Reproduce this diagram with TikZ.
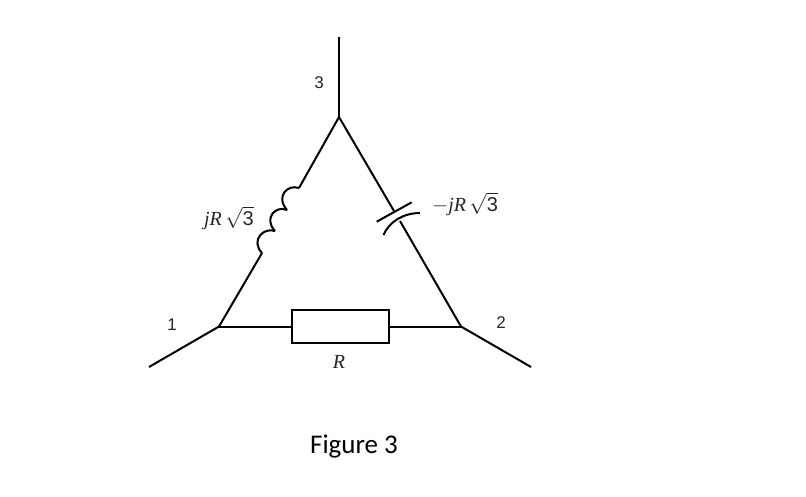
\documentclass[tikz,border=0pt]{standalone}
\usepackage{amsmath,amssymb}
\usepackage{fontspec}
\setmainfont{Liberation Sans}
\newfontfamily\capfont{Carlito}
\newfontfamily\valfont{Liberation Serif}
\newcommand{\jR}{{\valfont\itshape jR}}
\usepackage{tikz}

\begin{document}
\begin{tikzpicture}[x=1pt,y=-1pt,line width=2pt,
    lab/.style={text=black!85,font=\fontsize{17}{20}\selectfont,inner sep=0pt},
    val/.style={text=black!85,font=\fontsize{20}{23}\selectfont,inner sep=0pt},
    res/.style={draw,fill=white,minimum width=97pt,minimum height=33pt,inner sep=0pt}]
\useasboundingbox (0,0) rectangle (806,496);
\coordinate (top) at (339,37);
\coordinate (n3) at (339,117);
\coordinate (n1) at (219,326.5);
\coordinate (n2) at (461,326.5);
\coordinate (end1) at (149,367);
\coordinate (end2) at (531,367);
\coordinate (indA) at (299,188);
\coordinate (indB) at (287,210);
\coordinate (indC) at (275,231);
\coordinate (indD) at (262,253);
\coordinate (capA) at (394,211);
\coordinate (capB) at (400,221);
\node[res] (res) at (340.5,326.5) {};
\draw (top) -- (n3);
\draw (end1) -- (n1);
\draw (end2) -- (n2);
\draw (n1) -- (res);
\draw (res) -- (n2);
\draw (n3) -- (indA);
\draw (indA) .. controls (288,184) and (275,196) .. (indB);
\draw (indB) .. controls (276,205) and (263,218) .. (indC);
\draw (indC) .. controls (264,227) and (250,240) .. (indD);
\draw (indD) -- (n1);
\draw (n3) -- (capA);
\draw (capB) -- (n2);
\draw (376.7,221.7) -- (411.7,202.3);
\draw (383.5,235) .. controls (389,222) and (403,213) .. (420,213);
\node[lab] (lab3) at (319,83) {3};
\node[lab] (lab1) at (172,325) {1};
\node[lab] (lab2) at (501,323) {2};
\node[val] (valL) at (229,218) {\jR$\,\sqrt{\mathrm{3}}$};
\node[val] (valC) at (465,204) {$-$\jR$\,\sqrt{\mathrm{3}}$};
\node[val] (valR) at (339,362) {{\valfont\itshape R}};
\node[font=\capfont\fontsize{27}{30}\selectfont,inner sep=0pt] (fig) at (354,447) {Figure 3};
\end{tikzpicture}
\end{document}
